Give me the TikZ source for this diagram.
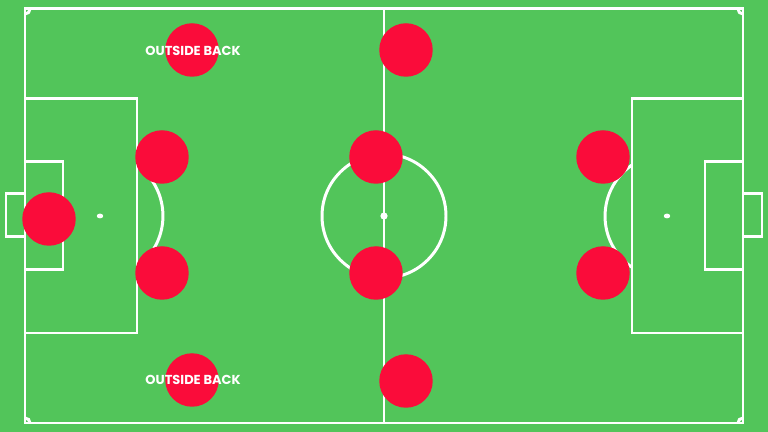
\documentclass[tikz,border=0pt]{standalone}
\usepackage{fontspec}
\newfontfamily\labelfont{Poppins}
\definecolor{pitchgreen}{RGB}{82,197,90}
\definecolor{playerred}{RGB}{250,12,58}

\begin{document}
\begin{tikzpicture}
  [x=0.02cm,y=0.02cm,
   line/.style={draw=white,line width=1.7pt},
   player/.style={circle,fill=playerred,minimum size=1.07cm,inner sep=0pt},
   position label/.style={text=white,font=\labelfont\bfseries\fontsize{7.4}{8}\selectfont,inner sep=0pt}]
  \fill[pitchgreen] (0,0) rectangle (768,432);
  \useasboundingbox (0,0) rectangle (768,432);

  % pitch
  \draw[line] (25,9) rectangle (743,423);
  \draw[line] (384,9) -- (384,423);
  \draw[line] (384,216) circle (62);
  \fill[white] (384,216) circle (3.6);
  % left end
  \draw[line] (25,99) rectangle (137,333);
  \draw[line] (25,162) rectangle (63,270);
  \draw[line] (25,195) -- (6,195) -- (6,238) -- (25,238);
  \fill[white] (100,216) ellipse (3.2 and 2.4);
  \draw[line] (137,267) arc (54:-54:63);
  % right end
  \draw[line] (632,99) rectangle (743,333);
  \draw[line] (705,162) rectangle (743,270);
  \draw[line] (743,195) -- (762,195) -- (762,238) -- (743,238);
  \fill[white] (667,216) ellipse (3.2 and 2.4);
  \draw[line] (632,267) arc (124.4:235.6:62);
  % corners
  \draw[line] (30,423) arc (0:-90:5);
  \draw[line] (25,14) arc (90:0:5);
  \draw[line] (738,423) arc (180:270:5);
  \draw[line] (743,14) arc (90:180:5);

  % players
  \node[player] (gk) at (49,213) {};
  \node[player] (lb) at (192,382) {};
  \node[player] (rb) at (192,52) {};
  \node[player] (lcb) at (162,275) {};
  \node[player] (rcb) at (162,159) {};
  \node[player] (lm) at (406,382) {};
  \node[player] (lcm) at (376,275) {};
  \node[player] (rcm) at (376,159) {};
  \node[player] (rm) at (406,51) {};
  \node[player] (lf) at (603,275) {};
  \node[player] (rf) at (603,159) {};

  \node[position label] (lb label) at (193,381) {OUTSIDE BACK};
  \node[position label] (rb label) at (193,52) {OUTSIDE BACK};
\end{tikzpicture}
\end{document}
